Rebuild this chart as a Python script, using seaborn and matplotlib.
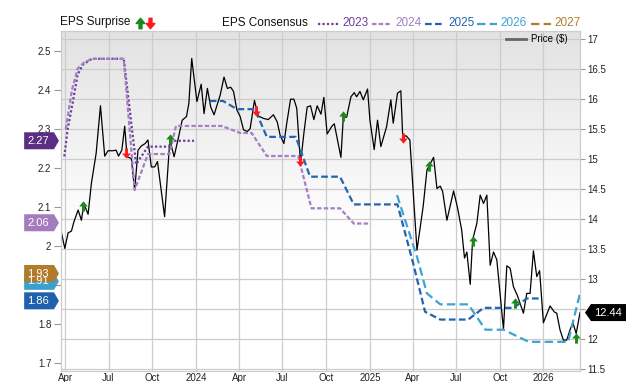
import numpy as np
import pandas as pd
import matplotlib
matplotlib.use('Agg')
import matplotlib.pyplot as plt
from matplotlib.path import Path
from matplotlib.lines import Line2D
from matplotlib.patches import Polygon
from matplotlib.colors import LinearSegmentedColormap
import seaborn as sns

# weekly-ish closing price
price_dates = [
    '2023-03-24', '2023-03-31', '2023-04-07', '2023-04-14', '2023-04-19', '2023-04-28', '2023-05-05',
    '2023-05-10', '2023-05-19', '2023-05-26', '2023-06-05', '2023-06-14', '2023-06-23', '2023-06-30',
    '2023-07-10', '2023-07-17', '2023-07-22', '2023-07-29', '2023-08-04', '2023-08-09', '2023-08-18',
    '2023-08-25', '2023-09-01', '2023-09-08', '2023-09-16', '2023-09-22', '2023-09-29', '2023-10-06',
    '2023-10-12', '2023-10-27', '2023-11-07', '2023-11-16', '2023-11-24', '2023-12-03', '2023-12-12',
    '2023-12-17', '2023-12-23', '2024-01-03', '2024-01-12', '2024-01-18', '2024-01-25', '2024-02-01',
    '2024-02-08', '2024-02-21', '2024-02-29', '2024-03-07', '2024-03-14', '2024-03-20', '2024-03-27',
    '2024-04-03', '2024-04-10', '2024-04-18', '2024-04-24', '2024-05-03', '2024-05-11', '2024-05-22',
    '2024-06-01', '2024-06-12', '2024-06-20', '2024-06-26', '2024-07-04', '2024-07-10', '2024-07-18',
    '2024-07-25', '2024-07-31', '2024-08-08', '2024-08-15', '2024-08-22', '2024-08-29', '2024-09-05',
    '2024-09-12', '2024-09-20', '2024-09-26', '2024-10-03', '2024-10-13', '2024-10-18', '2024-11-01',
    '2024-11-06', '2024-11-13', '2024-11-22', '2024-11-29', '2024-12-04', '2024-12-11', '2024-12-18',
    '2024-12-27', '2025-01-01', '2025-01-10', '2025-01-17', '2025-01-24', '2025-02-05', '2025-02-14',
    '2025-02-19', '2025-02-28', '2025-03-07', '2025-03-11', '2025-03-18', '2025-03-26', '2025-04-10',
    '2025-04-23', '2025-05-01', '2025-05-15', '2025-05-22', '2025-05-29', '2025-06-03', '2025-06-12',
    '2025-06-26', '2025-07-04', '2025-07-13', '2025-07-19', '2025-07-24', '2025-07-31', '2025-08-05',
    '2025-08-14', '2025-08-21', '2025-08-28', '2025-09-04', '2025-09-11', '2025-09-18', '2025-09-25',
    '2025-10-09', '2025-10-16', '2025-10-23', '2025-10-30', '2025-11-07', '2025-11-20', '2025-11-27',
    '2025-12-04', '2025-12-11', '2025-12-18', '2025-12-24', '2026-01-01', '2026-01-15', '2026-01-24',
    '2026-01-29', '2026-02-05', '2026-02-12', '2026-02-19', '2026-02-26', '2026-03-04', '2026-03-11',
    '2026-03-19']
price_values = [
    13.77, 13.51, 13.77, 13.80, 13.95, 14.15, 13.98,
    14.26, 14.08, 14.60, 15.10, 15.89, 15.05, 15.14,
    15.14, 15.15, 15.05, 15.15, 15.55, 15.04, 15.01,
    14.48, 15.15, 15.22, 15.26, 15.32, 14.87, 14.87,
    14.96, 14.04, 15.32, 15.04, 15.32, 15.65, 15.71,
    15.93, 16.68, 15.96, 16.25, 15.76, 16.18, 15.87,
    15.74, 16.07, 16.37, 16.18, 16.20, 16.13, 15.82,
    15.71, 15.49, 15.46, 15.51, 15.98, 15.72, 15.68,
    15.66, 15.74, 15.62, 15.40, 15.26, 15.60, 16.00,
    16.00, 15.85, 14.93, 15.43, 15.87, 15.89, 15.66,
    15.89, 15.75, 16.03, 15.42, 15.55, 15.59, 15.03,
    15.70, 15.70, 16.04, 16.11, 16.04, 16.13, 15.99,
    16.17, 15.65, 15.16, 15.65, 15.21, 15.54, 15.99,
    15.60, 16.10, 16.14, 15.37, 15.39, 15.32, 13.48,
    14.21, 14.82, 15.03, 14.51, 14.55, 14.46, 13.98,
    14.47, 14.20, 13.82, 13.35, 13.45, 12.91, 13.65,
    13.93, 14.40, 14.26, 14.40, 13.23, 13.45, 13.32,
    12.16, 13.22, 13.18, 12.87, 12.73, 12.43, 12.76,
    12.76, 13.47, 13.04, 13.14, 12.27, 12.55, 12.45,
    12.43, 12.15, 11.98, 11.98, 12.15, 12.27, 12.09,
    12.44]

# EPS consensus by fiscal year
c2023_dates = ['2023-03-30', '2023-04-06', '2023-04-17', '2023-04-27', '2023-05-08', '2023-05-27',
               '2023-08-02', '2023-08-28', '2023-09-22', '2023-11-05', '2023-11-14', '2023-12-28']
c2023_values = [2.23, 2.30, 2.37, 2.44, 2.465, 2.48, 2.48, 2.21, 2.255, 2.255, 2.27, 2.27]

c2024_dates = ['2023-04-02', '2023-04-15', '2023-04-27', '2023-05-10', '2023-05-27', '2023-08-02',
               '2023-08-25', '2023-09-22', '2023-11-06', '2023-11-20', '2024-02-24', '2024-04-03',
               '2024-04-27', '2024-05-29', '2024-08-03', '2024-08-31', '2024-10-30', '2024-11-28',
               '2024-12-31']
c2024_values = [2.30, 2.40, 2.455, 2.47, 2.48, 2.48, 2.144, 2.236, 2.236, 2.308, 2.308, 2.29,
                2.29, 2.231, 2.231, 2.097, 2.097, 2.058, 2.058]

c2025_dates = ['2024-01-30', '2024-02-27', '2024-03-27', '2024-05-04', '2024-05-29', '2024-07-29',
               '2024-08-28', '2024-10-30', '2024-11-28', '2025-02-28', '2025-04-02', '2025-04-27',
               '2025-05-29', '2025-07-27', '2025-08-28', '2025-10-30', '2025-11-27', '2025-12-29']
c2025_values = [2.372, 2.372, 2.351, 2.351, 2.28, 2.28, 2.178, 2.178, 2.107, 2.107, 1.956, 1.832,
                1.812, 1.812, 1.842, 1.842, 1.866, 1.866]

c2026_dates = ['2025-02-27', '2025-04-10', '2025-05-01', '2025-05-29', '2025-07-27', '2025-09-01',
               '2025-10-09', '2025-12-01', '2026-02-22', '2026-03-19']
c2026_values = [2.131, 1.973, 1.879, 1.851, 1.851, 1.786, 1.786, 1.755, 1.755, 1.879]

# EPS surprise markers (placed on the price line)
beat_dates = ['2023-05-08', '2023-11-07', '2024-11-06', '2025-05-06', '2025-08-05', '2025-11-03', '2026-03-11']
beat_prices = [14.21, 15.33, 15.72, 14.88, 13.63, 12.60, 12.01]
miss_dates = ['2023-08-07', '2024-05-06', '2024-08-07', '2025-03-11']
miss_prices = [15.11, 15.81, 14.97, 15.36]

years = ['2023', '2024', '2025', '2026', '2027']
year_colors = ['#6a3d9a', '#a47fc4', '#2264b0', '#3fa2d2', '#b07d2b']
badge_values = [2.27, 2.06, 1.91, 1.93, 1.86]
badge_colors = ['#5b2d84', '#a57bbf', '#3d9fcc', '#b07c2c', '#1f61ad']
last_price = 12.44

tick_dates = ['2023-04-01', '2023-07-01', '2023-10-01', '2024-01-01', '2024-04-01', '2024-07-01',
              '2024-10-01', '2025-01-01', '2025-04-01', '2025-07-01', '2025-10-01', '2026-01-01']
tick_labels = ['Apr', 'Jul', 'Oct', '2024', 'Apr', 'Jul', 'Oct', '2025', 'Apr', 'Jul', 'Oct', '2026']
price_ticks = [11.5, 12, 12.5, 13, 13.5, 14, 14.5, 15, 15.5, 16, 16.5, 17]
eps_ticks = [1.7, 1.8, 1.9, 2.0, 2.1, 2.2, 2.3, 2.4, 2.5]

plt.rcParams['font.family'] = ['Liberation Sans', 'DejaVu Sans']

W, H = 640, 382
fig = plt.figure(figsize=(6.4, 3.82), dpi=100)
rect = [61 / W, 1 - 370.7 / H, 519 / W, 340 / H]

# gradient background
bg = fig.add_axes(rect, zorder=-1)
grad = np.clip(np.linspace(0, 1, 256) / 0.6, 0, 1).reshape(-1, 1)
cmap = LinearSegmentedColormap.from_list('bg', ['#e2e2e2', '#ffffff'])
bg.imshow(grad, aspect='auto', cmap=cmap, extent=[0, 1, 0, 1], origin='upper')
bg.axis('off')

ax = fig.add_axes(rect)
ax.patch.set_visible(False)
ax2 = ax.twinx()

# price on primary axis (ticks on the right)
sns.lineplot(x=pd.to_datetime(price_dates), y=price_values, ax=ax, color='black', lw=0.9,
             estimator=None)

styles = [(0, (1, 1)), (0, (2, 1)), (0, (3, 1.5)), (0, (3.8, 1.9)), (0, (3.8, 1.9))]
series = [(c2023_dates, c2023_values), (c2024_dates, c2024_values),
          (c2025_dates, c2025_values), (c2026_dates, c2026_values)]
for (d, v), col, ls in zip(series, year_colors, styles):
    sns.lineplot(x=pd.to_datetime(d), y=v, ax=ax2, color=col, lw=1.6, linestyle=ls,
                 estimator=None)

up = Path([(-0.14, -0.5), (0.14, -0.5), (0.14, 0.0), (0.42, 0.0), (0, 0.5), (-0.42, 0.0),
           (-0.14, 0.0), (-0.14, -0.5)],
          [Path.MOVETO] + [Path.LINETO] * 6 + [Path.CLOSEPOLY])
down = Path(up.vertices * np.array([1, -1]), up.codes)

sns.scatterplot(x=pd.to_datetime(beat_dates), y=beat_prices, ax=ax2, marker=up, s=55,
                color='#1a8a1a', linewidth=0, transform=ax.transData, zorder=6)
sns.scatterplot(x=pd.to_datetime(miss_dates), y=miss_prices, ax=ax2, marker=down, s=55,
                color='#ff1a1a', linewidth=0, transform=ax.transData, zorder=6)

xmin, xmax = pd.Timestamp('2023-03-23'), pd.Timestamp('2026-03-19')
ax.set_xlim(xmin, xmax)
ax.set_ylim(11.47, 17.143)
ax2.set_ylim(1.681, 2.552)

ax.set_xticks(pd.to_datetime(tick_dates))
ax.set_xticklabels(tick_labels)
ax.yaxis.tick_right()
ax.set_yticks(price_ticks)
# labels hidden behind the value badges in the original are left blank
ax.set_yticklabels(['' if abs(t - last_price) < 0.1 else f'{t:g}' for t in price_ticks])
ax2.yaxis.tick_left()
ax2.set_yticks(eps_ticks)
ax2.set_yticklabels(['' if abs(t - 1.9) < 0.01 else f'{t:g}' for t in eps_ticks])

ax.grid(True, color='#cccccc', lw=0.9)
ax2.grid(False)
ax.tick_params(axis='x', length=0, pad=1.5, labelsize=7, labelcolor='#222222')
ax.tick_params(axis='y', length=3.6, pad=1.5, labelsize=7, labelcolor='#222222', color='#999999')
ax2.tick_params(axis='y', length=5, pad=2, labelsize=7, labelcolor='#222222', color='#999999')
for a in (ax, ax2):
    a.set_xlabel('')
    a.set_ylabel('')
    for s in a.spines.values():
        s.set_color('#cccccc')

# value badges
ytr2 = ax2.get_yaxis_transform()
h = 0.0218
for v, c in zip(badge_values, badge_colors):
    pts = [(-0.071, v - h), (-0.0135, v - h), (-0.004, v), (-0.0135, v + h), (-0.071, v + h)]
    ax2.add_patch(Polygon(pts, closed=True, transform=ytr2, facecolor=c, edgecolor='none',
                          clip_on=False, zorder=10))
    ax2.text(-0.044, v, f'{v:.2f}', transform=ytr2, color='white', fontsize=8, ha='center',
             va='center', zorder=11, clip_on=False)

ytr = ax.get_yaxis_transform()
hp = 0.142
pts = [(1.0096, last_price), (1.0212, last_price + hp), (1.0886, last_price + hp),
       (1.0886, last_price - hp), (1.0212, last_price - hp)]
ax.add_patch(Polygon(pts, closed=True, transform=ytr, facecolor='black', edgecolor='none',
                     clip_on=False, zorder=10))
ax.text(1.054, last_price, f'{last_price:.2f}', transform=ytr, color='white', fontsize=8,
        ha='center', va='center', zorder=11, clip_on=False)

ax.legend(handles=[Line2D([], [], color='#666666', lw=2)], labels=['Price ($)'],
          loc='upper right', bbox_to_anchor=(0.99, 1.01), frameon=False, fontsize=7,
          handlelength=2, handletextpad=0.6, borderpad=0.2)

# header legend
def fx(px):
    return px / W

yc = 1 - 22.5 / H
yl = 1 - 23.5 / H
fig.text(fx(60), yc, 'EPS Surprise', fontsize=8.5, va='center', color='#111111')
fig.add_artist(Line2D([fx(140)], [yc], marker=up, markersize=7.5, color='#1a8a1a', lw=0,
                      transform=fig.transFigure))
fig.add_artist(Line2D([fx(149.5)], [yc], marker=down, markersize=7.5, color='#ff1a1a', lw=0,
                      transform=fig.transFigure))
fig.text(fx(221.5), yc, 'EPS Consensus', fontsize=8.5, va='center', color='#111111')
line_x = [318, 372, 425, 477, 531]
text_x = [342, 395, 448, 500, 554]
for yr, col, ls, lx, tx in zip(years, year_colors, styles, line_x, text_x):
    fig.add_artist(Line2D([fx(lx), fx(lx + 20)], [yl, yl], color=col, lw=1.6, linestyle=ls,
                          transform=fig.transFigure))
    fig.text(fx(tx), yc, yr, fontsize=8.5, va='center', color=col)

fig.savefig('out.png', dpi=100)
